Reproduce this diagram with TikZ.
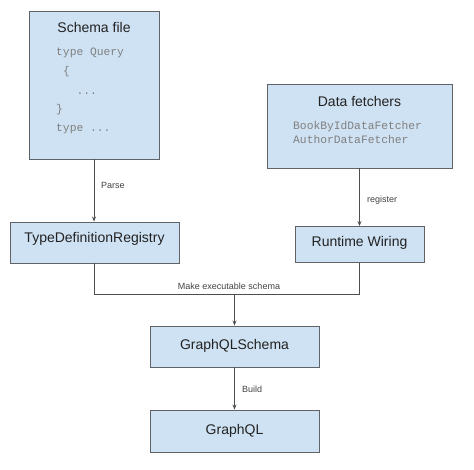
\documentclass[tikz,border=0pt]{standalone}
\usepackage{fontspec}
\setmainfont{Liberation Sans}
\setmonofont{Liberation Mono}
\usetikzlibrary{arrows.meta}
\definecolor{boxfill}{HTML}{CFE2F3}
\definecolor{boxline}{HTML}{5F6368}
\definecolor{codegray}{HTML}{7F7F7F}
\definecolor{txt}{HTML}{222222}
\tikzset{
  box/.style={draw=boxline, line width=0.9pt, fill=boxfill, rectangle, inner sep=0pt},
  bigtext/.style={font=\fontsize{14}{16}\selectfont, text=txt, inner sep=0pt},
  smalltext/.style={font=\fontsize{9}{11}\selectfont, text=txt!85, inner sep=0pt},
  code/.style={font=\ttfamily\fontsize{11.3}{13}\selectfont, text=codegray, inner sep=0pt, anchor=mid west},
  conn/.style={draw=txt!80, line width=0.8pt},
  arr/.style={conn, -{Stealth[length=5pt,width=4pt]}}
}
\begin{document}
\begin{tikzpicture}[x=1pt,y=-1pt]
\useasboundingbox[fill=white] (0,0) rectangle (474,470);
% boxes
\node[box, minimum width=130pt, minimum height=148pt] (schema) at (94,85) {};
\node[box, minimum width=169pt, minimum height=41pt] (tdr) at (94.5,242.5) {};
\node[box, minimum width=185pt, minimum height=84pt] (fetch) at (359.5,126) {};
\node[box, minimum width=129pt, minimum height=36pt] (rw) at (359.5,244.5) {};
\node[box, minimum width=169pt, minimum height=41pt] (gqls) at (234.5,346.5) {};
\node[box, minimum width=169pt, minimum height=42pt] (gql) at (234.5,431) {};
% texts
\node[bigtext] (schematitle) at (94,27) {Schema file};
\node[code] (c1) at (56,53) {type Query};
\node[code] (c2) at (62.8,72) {\{};
\node[code] (c3) at (76.3,92) {...};
\node[code] (c4) at (56,110) {\}};
\node[code] (c5) at (56,129) {type ...};
\node[bigtext] (fetchtitle) at (359.5,101) {Data fetchers};
\node[code] (d1) at (293,127) {BookByIdDataFetcher};
\node[code] (d2) at (293,141) {AuthorDataFetcher};
\node[bigtext] (tdrt) at (94.5,239) {TypeDefinitionRegistry};
\node[bigtext] (rwt) at (359.5,243) {Runtime Wiring};
\node[bigtext] (gqlst) at (234.5,346) {GraphQLSchema};
\node[bigtext] (gqlt) at (234.5,431) {GraphQL};
% connectors
\draw[arr] (schema.south -| 94,0) -- (tdr.north -| 94,0);
\node[smalltext, anchor=west] (parse) at (101,185) {Parse};
\draw[arr] (fetch.south) -- (rw.north);
\node[smalltext, anchor=west] (reg) at (367,200) {register};
\coordinate (j) at (234.5,294);
\draw[conn] (tdr.south -| 94,0) |- (j);
\draw[conn] (rw.south) |- (j);
\draw[arr] (j) -- (gqls.north);
\node[smalltext] (make) at (229,286) {Make executable schema};
\draw[arr] (gqls.south) -- (gql.north);
\node[smalltext, anchor=west] (build) at (242,389) {Build};
\end{tikzpicture}
\end{document}
